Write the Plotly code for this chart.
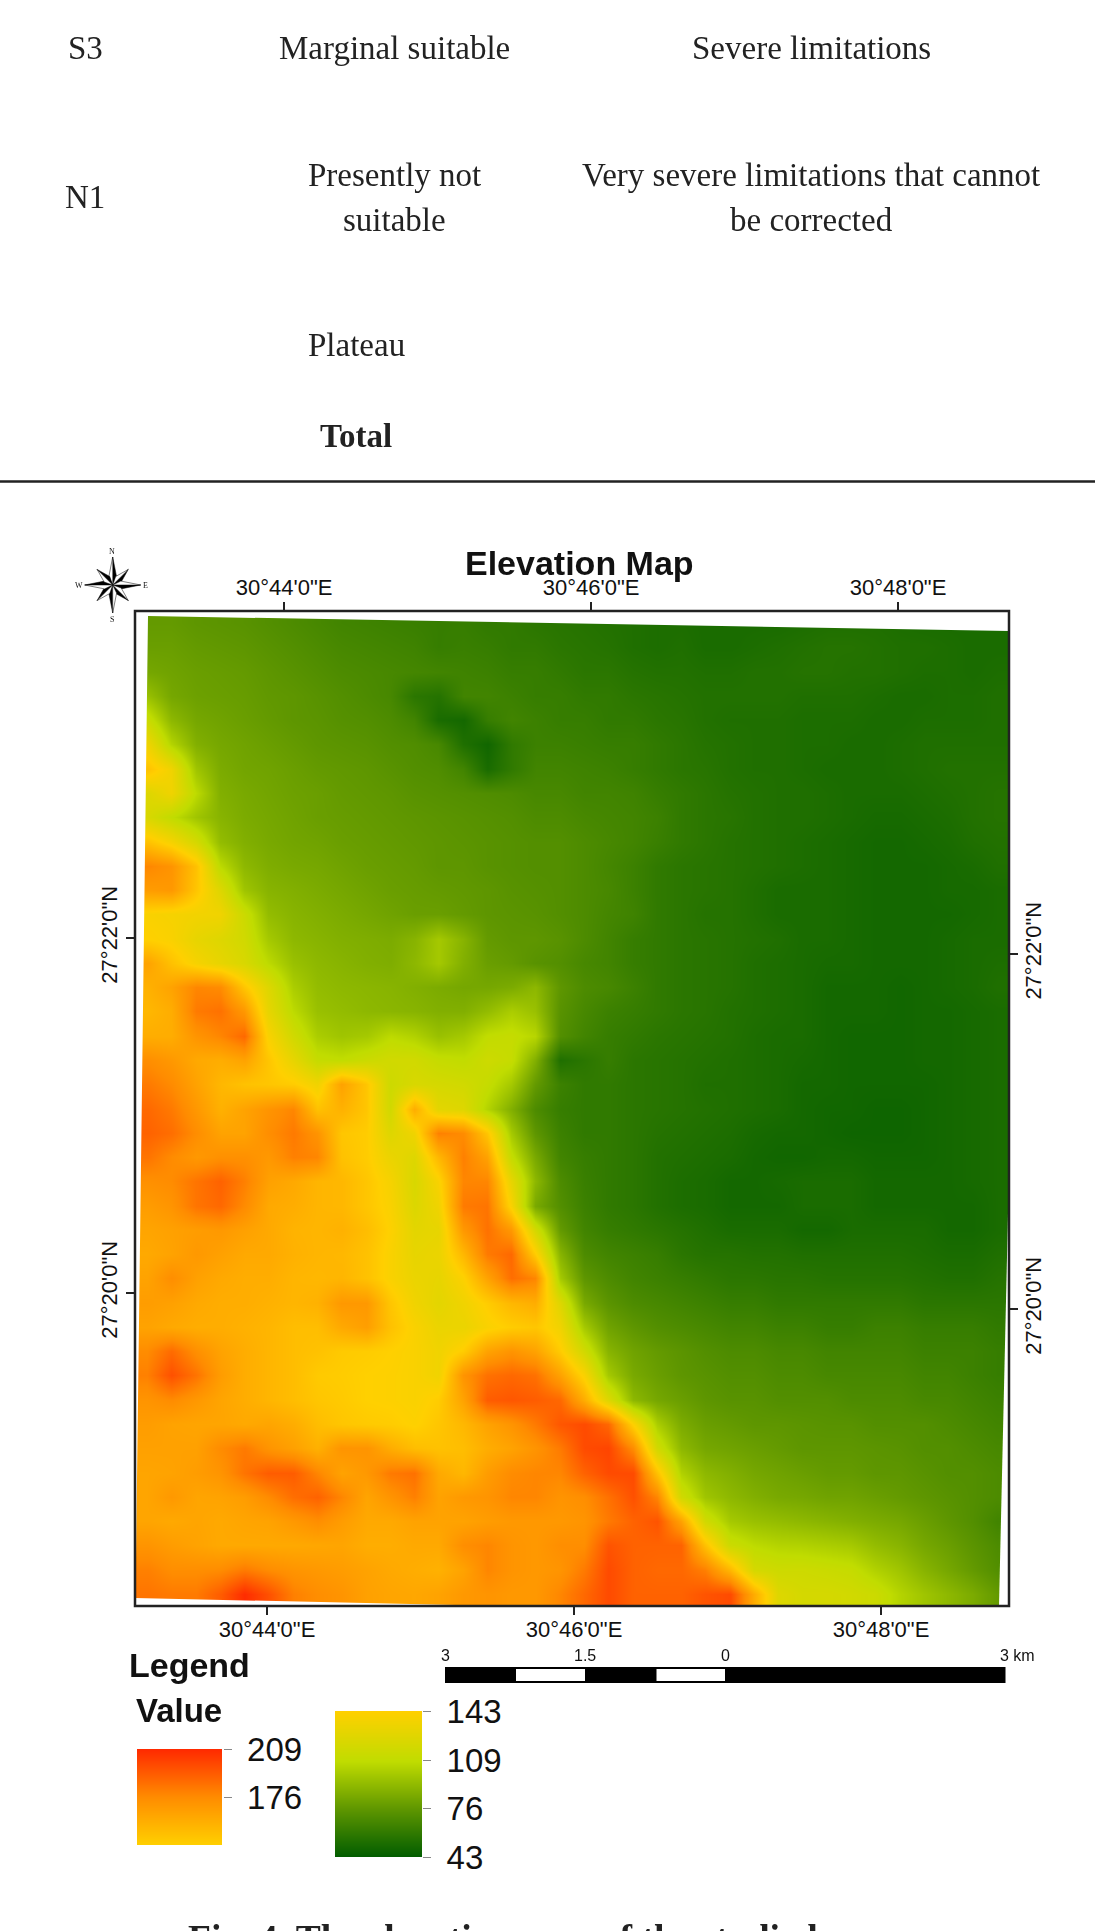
import numpy as np
import plotly.graph_objects as go

W, H = 1095, 1931

# table rows left over above the figure
table_text = [
    ["S3", 85, 48], ["Marginal suitable", 394, 48], ["Severe limitations", 811, 48],
    ["N1", 85, 197], ["Presently not", 394, 175], ["suitable", 394, 220],
    ["Very severe limitations that cannot", 811, 175], ["be corrected", 811, 220],
    ["Plateau", 356, 345],
]

lon_ticks = [44, 46, 48]
lon_labels = ["30°44'0\"E", "30°46'0\"E", "30°48'0\"E"]
lat_ticks = [20, 22]
lat_labels = ["27°20'0\"N", "27°22'0\"N"]

# elevation, row by row from north to south
elevation = [
    [78,78,76,75,74,72,70,68,66,65, 64,63,62,62,60,60,58,57,56,55, 54,53,53,52,52,52,52,53,54,54, 54,53,52,52,52,52],
    [80,80,78,77,76,74,72,70,68,67, 66,65,62,63,62,60,60,58,57,56, 54,53,54,52,52,53,54,55,56,56, 55,54,54,53,52,52],
    [84,82,80,79,78,76,74,72,70,69, 68,67,66,65,64,62,62,60,58,58, 56,55,55,54,54,55,55,56,56,55, 55,54,53,53,52,53],
    [96,84,81,80,79,77,76,74,72,70, 68,58,56,66,66,64,62,62,60,60, 58,57,56,55,55,55,55,54,54,54, 53,52,52,53,53,54],
    [115,92,84,82,80,78,76,75,73,72, 70,66,52,50,62,66,64,62,62,60, 60,58,57,55,54,54,54,53,53,53, 52,52,53,53,53,54],
    [135,105,88,84,82,80,78,76,75,74, 72,71,68,54,49,60,64,64,63,62, 62,60,58,56,55,54,54,53,53,52, 52,53,54,54,54,54],
    [150,135,98,86,83,82,80,78,77,76, 74,72,71,66,52,60,66,66,65,64, 62,60,58,57,55,54,54,53,52,52, 52,53,54,55,55,55],
    [125,135,108,88,85,83,81,80,78,77, 76,74,73,72,71,70,68,68,66,66, 65,62,60,58,56,55,54,54,53,52, 52,52,53,54,55,56],
    [122,110,98,90,86,84,82,80,79,78, 77,76,75,74,73,72,70,70,68,67, 66,64,60,58,57,55,54,54,53,52, 51,51,52,53,55,56],
    [150,138,120,94,88,85,83,82,80,79, 78,77,76,75,74,73,72,72,70,68, 66,63,60,58,56,55,54,53,52,51, 50,50,51,52,54,55],
    [178,172,150,108,92,87,85,84,82,80, 79,78,76,76,74,73,72,72,70,67, 64,60,58,57,56,55,54,53,52,51, 50,50,50,51,52,54],
    [168,170,148,125,98,90,88,86,84,82, 80,79,78,77,76,74,73,72,70,68, 64,60,58,57,56,54,52,52,52,51, 50,50,50,51,51,52],
    [140,138,136,135,115,94,90,88,86,84, 82,80,80,78,76,75,74,72,70,67, 65,60,58,56,56,54,52,52,52,51, 50,50,50,50,51,52],
    [143,140,130,125,118,100,92,90,88,87, 86,90,100,90,78,76,76,74,70,66, 62,60,58,57,56,55,54,52,52,51, 50,50,50,51,52,52],
    [165,150,138,130,122,108,96,92,90,88, 87,92,100,88,80,78,74,72,68,66, 62,60,58,57,56,54,53,52,51,51, 50,50,50,51,52,53],
    [158,165,178,176,148,125,102,94,92,91, 90,88,86,84,84,86,92,76,70,68, 64,60,58,57,56,54,53,52,50,50, 50,49,50,51,52,54],
    [155,160,182,185,170,130,108,96,94,92, 91,90,88,88,94,102,96,74,68,64, 62,60,58,57,55,54,53,52,50,50, 50,49,50,50,51,52],
    [160,160,172,178,188,140,118,102,98,100, 108,104,96,100,110,112,106,72,66,62, 60,58,57,56,55,53,52,52,50,49, 49,49,50,50,51,52],
    [175,170,162,160,165,148,130,112,110,115, 118,118,112,110,116,112,88,54,58,62, 58,57,56,55,54,53,52,51,50,49, 49,49,50,50,51,52],
    [182,176,165,155,150,148,145,135,165,148, 116,122,120,118,112,100,78,64,60,60, 58,57,56,54,54,53,52,50,50,49, 49,49,49,50,51,52],
    [188,182,170,158,165,172,178,150,158,148, 118,160,128,125,105,88,70,62,60,60, 58,57,56,55,54,53,52,50,49,49, 48,48,49,50,51,52],
    [190,186,175,165,165,175,182,172,148,145, 125,135,180,176,148,100,76,64,60,60, 58,56,55,54,53,51,50,50,49,48, 48,48,49,50,51,52],
    [184,176,170,174,174,170,180,178,150,145, 132,125,155,180,165,112,85,66,62,60, 58,55,54,53,52,50,49,49,50,50, 49,49,49,50,51,52],
    [174,176,184,190,180,166,162,156,155,148, 138,122,140,178,178,130,92,70,63,60, 58,55,53,52,50,50,51,52,52,52, 50,50,50,50,51,52],
    [168,172,184,188,176,162,160,156,155,148, 140,124,135,182,184,140,85,72,64,60, 58,55,53,52,50,50,50,52,52,52, 50,50,50,50,50,52],
    [164,166,168,170,166,162,157,156,158,152, 142,128,130,170,185,170,120,78,66,62, 60,58,56,54,52,52,52,50,50,52, 52,52,52,50,50,52],
    [162,165,170,166,162,162,158,156,155,150, 140,130,132,155,182,188,145,90,70,66, 64,62,58,56,56,55,55,54,54,54, 54,54,53,52,52,54],
    [165,175,166,162,160,160,156,155,156,150, 140,132,130,142,165,186,178,100,76,70, 66,64,62,60,58,58,57,57,56,56, 56,56,55,54,54,56],
    [168,166,162,160,160,158,156,158,170,170, 148,135,128,135,145,155,160,125,85,75, 70,68,66,64,62,62,60,60,60,60, 60,60,58,58,58,58],
    [165,162,160,160,158,156,152,152,162,167, 150,140,132,132,140,145,148,135,100,82, 76,72,70,68,66,66,64,64,62,62, 64,64,62,62,62,60],
    [176,187,174,165,160,156,152,150,146,145, 143,140,135,145,165,172,165,145,118,90, 82,78,75,72,70,70,68,68,66,66, 66,66,64,64,64,62],
    [180,196,184,168,160,156,152,146,145,143, 142,140,135,172,185,188,185,165,140,100, 85,80,76,74,72,72,70,70,68,68, 68,68,66,66,64,62],
    [172,176,170,164,160,156,152,148,146,143, 142,140,145,165,192,194,192,188,160,125, 92,84,80,76,74,74,72,72,72,70, 70,70,68,68,66,64],
    [168,165,164,164,162,164,160,152,148,146, 145,142,148,155,165,172,182,194,198,188, 142,102,86,80,78,76,76,75,74,74, 72,72,72,70,68,66],
    [166,166,166,176,182,172,166,158,172,172, 160,152,150,152,160,165,172,182,198,200, 175,118,92,84,82,80,78,76,76,76, 75,74,72,72,70,68],
    [164,165,168,172,184,192,192,178,165,170, 182,185,162,155,168,176,178,178,190,198, 198,150,104,92,88,84,82,80,78,78, 76,76,74,72,72,70],
    [164,170,164,165,168,176,186,190,178,164, 172,180,165,170,172,178,178,172,175,185, 196,178,118,98,92,88,85,84,82,82, 80,78,76,74,72,70],
    [164,162,164,162,164,165,170,175,168,162, 162,165,165,165,168,170,170,170,172,182, 190,195,165,118,100,96,94,92,90,88, 86,84,80,76,72,66],
    [172,168,165,162,162,162,162,163,164,160, 160,162,162,175,178,172,170,175,175,195, 190,190,190,150,115,108,105,104,102,100, 94,90,84,80,75,70],
    [180,175,175,176,182,176,172,170,168,165, 162,160,158,165,178,172,170,172,182,198, 190,188,188,180,155,120,116,116,114,112, 104,98,90,84,78,72],
    [184,182,182,192,208,196,180,175,172,166, 164,163,165,170,172,170,170,178,188,198, 190,190,190,195,198,160,125,120,120,118, 115,105,98,92,86,78],
]

# legend ramps
high_values = [143, 176, 209]
high_ticks = [176, 209]
low_values = [43, 76, 109, 143]
low_ticks = [43, 76, 109, 143]

scale_values = [43, 76, 109, 143, 176, 209]
scale_colors = ["#005c00", "#5e9600", "#c0dc00", "#ffd000", "#ff8c00", "#ff2a00"]
colorscale = [[(v - 43) / 166, c] for v, c in zip(scale_values, scale_colors)]

FRAME_L, FRAME_R, FRAME_T, FRAME_B = 135, 1009, 611, 1606
SANS = "Liberation Sans"
SERIF = "Liberation Serif"


def px(x):
    return x / W


def py(y):
    return 1 - y / H


fig = go.Figure()

# map raster
lon = np.linspace(43.14 + 0.08, 48.834 - 0.08, len(elevation[0]))
lat = np.linspace(23.842 - 0.068, 18.237 + 0.068, len(elevation))
fig.add_trace(go.Heatmap(z=elevation, x=lon, y=lat, coloraxis="coloraxis", zsmooth="best", hoverinfo="skip"))
# second pair of axes carries the top and right graticule ticks
fig.add_trace(go.Scatter(x=lon_ticks, y=lat_ticks, xaxis="x2", yaxis="y2", mode="markers", opacity=0, hoverinfo="skip"))

# legend ramps
fig.add_trace(go.Heatmap(z=[[v, v] for v in high_values], x=[0, 1], y=high_values, xaxis="x3", yaxis="y3",
                         coloraxis="coloraxis", zsmooth="best", hoverinfo="skip"))
fig.add_trace(go.Heatmap(z=[[v, v] for v in low_values], x=[0, 1], y=low_values, xaxis="x4", yaxis="y4",
                         coloraxis="coloraxis", zsmooth="best", hoverinfo="skip"))

tick_font = dict(family=SANS, size=22, color="#111")
map_x = dict(domain=[px(FRAME_L), px(FRAME_R)], tickvals=lon_ticks, ticktext=lon_labels, ticks="outside",
             ticklen=8, tickwidth=1.5, tickcolor="#222", tickfont=tick_font, showgrid=False, zeroline=False,
             automargin=False)
map_y = dict(domain=[py(FRAME_B), py(FRAME_T)], tickvals=lat_ticks, ticktext=lat_labels, ticks="outside",
             ticklen=8, tickwidth=1.5, tickcolor="#222", tickfont=tick_font, tickangle=-90,
             showgrid=False, zeroline=False, automargin=False)

hidden = dict(visible=False, range=[0, 1], fixedrange=True, automargin=False)
ramp_font = dict(family=SANS, size=33, color="#111")
ramp_y = dict(ticks="outside", ticklen=8, tickwidth=1, tickcolor="#888", tickfont=ramp_font, side="right",
              showgrid=False, zeroline=False, ticklabelstandoff=9, automargin=False)

fig.update_layout(
    template="none",
    width=W, height=H, autosize=False, margin=dict(l=0, r=0, t=0, b=0, autoexpand=False),
    paper_bgcolor="white", plot_bgcolor="white", showlegend=False,
    coloraxis=dict(colorscale=colorscale, cmin=43, cmax=209, showscale=False),
    xaxis=dict(map_x, range=[43.14, 48.834], anchor="y", side="bottom", ticklabelstandoff=-4),
    yaxis=dict(map_y, range=[18.237, 23.842], anchor="x", side="left"),
    xaxis2=dict(map_x, range=[43.029, 48.723], anchor="y2", side="top", overlaying="x", ticklabelstandoff=-2),
    yaxis2=dict(map_y, range=[18.327, 23.932], anchor="x2", side="right", overlaying="y", ticklabelstandoff=-3),
    xaxis3=dict(hidden, domain=[px(137), px(222.5)], anchor="y3"),
    yaxis3=dict(ramp_y, domain=[py(1845), py(1749)], range=[143, 209], tickvals=high_ticks, anchor="x3"),
    xaxis4=dict(hidden, domain=[px(335), px(422)], anchor="y4"),
    yaxis4=dict(ramp_y, domain=[py(1857), py(1711)], range=[43, 143], tickvals=low_ticks, anchor="x4"),
)

shapes = []


def poly(points, fill, line_color=None, line_width=0):
    path = "M " + " L ".join(f"{px(x):.5f},{py(y):.5f}" for x, y in points) + " Z"
    shapes.append(dict(type="path", xref="paper", yref="paper", path=path, fillcolor=fill, layer="above",
                       line=dict(color=line_color or fill, width=line_width)))


def rect(x0, y0, x1, y1, fill="rgba(0,0,0,0)", line_color="#222", line_width=0):
    shapes.append(dict(type="rect", xref="paper", yref="paper", x0=px(x0), x1=px(x1), y0=py(y0), y1=py(y1),
                       fillcolor=fill, layer="above", line=dict(color=line_color, width=line_width)))


# the raster is slightly rotated inside its frame, white wedges cut it to shape
poly([(FRAME_L, FRAME_T), (FRAME_R, FRAME_T), (FRAME_R, 631), (148, 616), (135.5, 1598), (FRAME_L, 1598)], "white")
poly([(FRAME_L, 1598), (500, FRAME_B), (FRAME_L, FRAME_B)], "white")
poly([(FRAME_R, 1170), (FRAME_R, FRAME_B), (999, FRAME_B)], "white")
rect(FRAME_L, FRAME_T, FRAME_R, FRAME_B, line_color="#222", line_width=2.5)

# rule under the table
shapes.append(dict(type="line", xref="paper", yref="paper", x0=0, x1=1, y0=py(481.5), y1=py(481.5),
                   line=dict(color="#222", width=2.5)))

# scale bar
rect(445, 1667, 1005.5, 1683, fill="black", line_color="black", line_width=0)
rect(516, 1669, 585, 1681, fill="white", line_color="white", line_width=0)
rect(656.5, 1669, 725, 1681, fill="white", line_color="white", line_width=0)

# north arrow
cx, cy = 112.7, 585
for k in range(8):
    ang = np.radians(45 * k)
    reach = 28 if k % 2 == 0 else 22
    tip = (cx + reach * np.sin(ang), cy - reach * np.cos(ang))
    side_a = (cx + 9 * np.sin(ang + 0.45), cy - 9 * np.cos(ang + 0.45))
    side_b = (cx + 9 * np.sin(ang - 0.45), cy - 9 * np.cos(ang - 0.45))
    poly([(cx, cy), tip, side_a], "black", "black", 0.5)
    poly([(cx, cy), tip, side_b], "white", "black", 0.5)

fig.update_layout(shapes=shapes)


def label(text, x, y, size, family=SANS, bold=False, color="#111", xanchor="center", yanchor="middle"):
    fig.add_annotation(text=f"<b>{text}</b>" if bold else text, x=px(x), y=py(y), xref="paper", yref="paper",
                       showarrow=False, xanchor=xanchor, yanchor=yanchor, align="center",
                       font=dict(family=family, size=size, color=color), borderpad=0, borderwidth=0)


for text, x, y in table_text:
    label(text, x, y, 33, family=SERIF, color="#222")
label("Total", 356, 436, 33, family=SERIF, bold=True, color="#222")

label("Elevation Map", 579, 563, 34, bold=True)
label("Legend", 128.5, 1665, 34, bold=True, xanchor="left")
label("Value", 136, 1710, 33, bold=True, xanchor="left")

label("3", 445, 1655, 16)
label("1.5", 585, 1655, 16)
label("0", 725, 1655, 16)
label("3 km", 1017, 1655, 16)

for text, x, y in [("N", 112, 551), ("S", 112, 619), ("W", 79, 585), ("E", 145, 585)]:
    label(text, x, y, 8, family=SERIF)

label("Fig. 4. The elevation map of the studied", 502.5, 1918, 37.5, family=SERIF, bold=True, color="#222", yanchor="top")

fig.write_html("out.html", config={"displayModeBar": False},
               post_script="document.body.style.margin='0';document.body.style.overflow='hidden';")
